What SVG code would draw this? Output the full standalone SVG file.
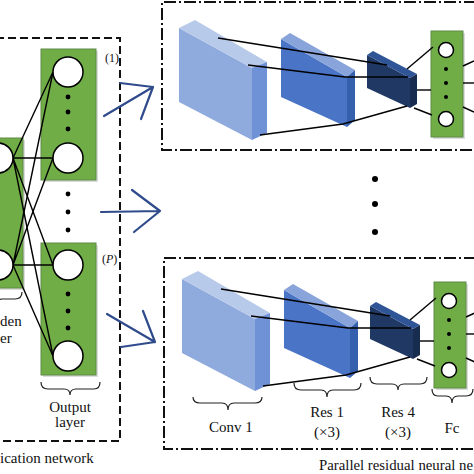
<svg xmlns="http://www.w3.org/2000/svg" width="474" height="474" viewBox="0 0 474 474">
<style>
.t{font-family:"Liberation Serif","Times New Roman",serif;font-size:15px;fill:#111}
.ts{font-family:"Liberation Serif","Times New Roman",serif;font-size:12px;fill:#111}
.g{fill:#70AD47;stroke:#5E8A48;stroke-width:1}
.sh{fill:#9a9a9a;opacity:.35}
.c{fill:#fff;stroke:#000;stroke-width:1.5}
.d{fill:#000}
.ln{fill:none;stroke:#000;stroke-width:1.4}
.br{fill:none;stroke:#222;stroke-width:1.2}
.ar{fill:none;stroke:#2F4B8C;stroke-width:2.2;stroke-linecap:round;stroke-linejoin:round}
.dash{fill:none;stroke:#111;stroke-width:2;stroke-dasharray:8 4}
.dd{fill:none;stroke:#111;stroke-width:2;stroke-dasharray:12 3 2 3}
.b1f{fill:#8FAADC}.b1t{fill:#B8CAEA}.b1s{fill:#6F92D6}
.b2f{fill:#4A74C6}.b2t{fill:#88A4DA}.b2s{fill:#3560AE}
.b3f{fill:#203864}.b3t{fill:#2F5597}.b3s{fill:#182C50}
</style>
<defs>
<g id="panel">
  <g id="conv">
    <polygon class="b1f" points="179,28 252,68 252,140 179,102"/>
    <polygon class="b1t" points="179,28 195,20 267,62 252,68"/>
    <polygon class="b1s" points="252,68 267,62 267,133 252,140"/>
  </g>
  <g id="res1">
    <polygon class="b2f" points="281,39 347,77 347,127 281,97"/>
    <polygon class="b2t" points="281,39 290,33 355,70 347,77"/>
    <polygon class="b2s" points="347,77 355,70 355,120 347,127"/>
  </g>
  <g id="res4">
    <polygon class="b3f" points="367,55 410,78 410,108 367,88"/>
    <polygon class="b3t" points="367,55 373,51 417,74 410,78"/>
    <polygon class="b3s" points="410,78 417,74 417,104 410,108"/>
  </g>
  <g id="fc">
    <rect class="sh" x="433" y="33" width="32" height="106"/>
    <rect class="g" x="431" y="31" width="32" height="106"/>
    <circle class="c" cx="446" cy="50" r="7.5"/>
    <circle class="c" cx="446" cy="119" r="7.5"/>
    <circle class="d" cx="446" cy="69" r="2"/>
    <circle class="d" cx="446" cy="83" r="2"/>
    <circle class="d" cx="446" cy="97" r="2"/>
  </g>
  <g id="panel-links">
    <path class="ln" d="M218,38 L387,65"/>
    <path class="ln" d="M248,65 L345,77 L408,77"/>
    <path class="ln" d="M260,135 L343,124 L407,106"/>
    <path class="ln" d="M407,69 L433,47"/>
    <path class="ln" d="M417,90 L431,90"/>
    <path class="ln" d="M414,108 L432,115"/>
    <path class="ln" d="M463,66 L474,61"/>
    <path class="ln" d="M463,83 L474,83"/>
    <path class="ln" d="M463,107 L474,112"/>
  </g>
</g>
</defs>

<g id="classification-box"><path class="dash" d="M-4,38 L120,38 L120,441 L-4,441"/></g>
<g id="resnet-box-1"><path class="dd" d="M476,2 L162,2 L162,150 L476,150"/></g>
<g id="resnet-box-P"><path class="dd" d="M476,258 L164,258 L164,449 L476,449"/></g>

<g id="hidden-layer">
  <rect class="sh" x="-10" y="140" width="35" height="150"/>
  <rect class="g" x="-12" y="138" width="35" height="150"/>
</g>
<g id="output-layer-1">
  <rect class="sh" x="43" y="51" width="55" height="131"/>
  <rect class="g" x="41" y="49" width="55" height="131"/>
  <circle class="d" cx="68" cy="97" r="2.4"/>
  <circle class="d" cx="68" cy="112" r="2.4"/>
  <circle class="d" cx="68" cy="129" r="2.4"/>
</g>
<g id="output-layer-P">
  <rect class="sh" x="43" y="245" width="55" height="132"/>
  <rect class="g" x="41" y="243" width="55" height="132"/>
  <circle class="d" cx="68" cy="294" r="2.4"/>
  <circle class="d" cx="68" cy="311" r="2.4"/>
  <circle class="d" cx="68" cy="328" r="2.4"/>
</g>
<g id="mid-dots">
  <circle class="d" cx="68" cy="194" r="2.4"/>
  <circle class="d" cx="68" cy="212" r="2.4"/>
  <circle class="d" cx="68" cy="230" r="2.4"/>
  <circle class="d" cx="375" cy="179" r="3"/>
  <circle class="d" cx="375" cy="204" r="3"/>
  <circle class="d" cx="375" cy="232" r="3"/>
</g>

<g id="connectors">
  <path class="ln" d="M13,158 L53,72 M13,158 L53,158 M13,158 L53,265 M13,158 L53,356"/>
  <path class="ln" d="M13,265 L53,72 M13,265 L53,158 M13,265 L53,265 M13,265 L53,356"/>
  <path class="ar" d="M104,116 L153,87 M120,83 L153,87 L141,119"/>
  <path class="ar" d="M101,212 L160,211 M132,190 L160,211 L134,232"/>
  <path class="ar" d="M107,314 L155,342 M143,311 L155,342 L121,347"/>
</g>

<g id="neurons">
  <circle class="c" cx="-2" cy="158" r="15"/>
  <circle class="c" cx="-2" cy="265" r="15"/>
  <circle class="c" cx="68" cy="72" r="15"/>
  <circle class="c" cx="68" cy="158" r="15"/>
  <circle class="c" cx="68" cy="265" r="15"/>
  <circle class="c" cx="68" cy="356" r="15"/>
</g>

<g id="resnet-1"><use href="#panel"/></g>
<g id="resnet-P"><use href="#panel" transform="translate(3,251)"/></g>

<g id="labels">
  <text class="ts" x="105" y="62">(1)</text>
  <text class="ts" x="102" y="263">(<tspan font-style="italic">P</tspan>)</text>
  <path class="br" d="M-25,292 Q-25,299 -18,299 L-8,299 Q-3,299 -3,305 Q-3,299 2,299 L15,299 Q22,299 22,292"/>
  <text class="t" x="0" y="326">den</text>
  <text class="t" x="0" y="343">er</text>
  <path class="br" d="M41,382 Q41,389 48,389 L64,389 Q70,389 70,395 Q70,389 76,389 L94,389 Q100,389 100,382"/>
  <text class="t" x="70" y="412" text-anchor="middle">Output</text>
  <text class="t" x="70" y="427" text-anchor="middle">layer</text>
  <text class="t" x="0" y="463">ication network</text>
  <path class="br" d="M193,397 Q193,403 200,403 L222,403 Q228,403 228,410 Q228,403 234,403 L255,403 Q262,403 262,397"/>
  <text class="t" x="231" y="432" text-anchor="middle">Conv 1</text>
  <path class="br" d="M294,383 Q294,390 301,390 L321,390 Q327,390 327,397 Q327,390 333,390 L354,390 Q361,390 361,383"/>
  <text class="t" x="327" y="417" text-anchor="middle">Res 1</text>
  <text class="t" x="327" y="437" text-anchor="middle">(×3)</text>
  <path class="br" d="M370,377 Q370,384 377,384 L392,384 Q398,384 398,390 Q398,384 404,384 L420,384 Q427,384 427,377"/>
  <text class="t" x="398" y="417" text-anchor="middle">Res 4</text>
  <text class="t" x="398" y="437" text-anchor="middle">(×3)</text>
  <path class="br" d="M432,389 Q432,396 438,396 L446,396 Q452,396 452,403 Q452,396 458,396 L466,396 Q473,396 473,389"/>
  <text class="t" x="452" y="433" text-anchor="middle">Fc</text>
  <text class="t" x="319" y="470" textLength="154" lengthAdjust="spacingAndGlyphs">Parallel residual neural ne</text>
</g>
</svg>
